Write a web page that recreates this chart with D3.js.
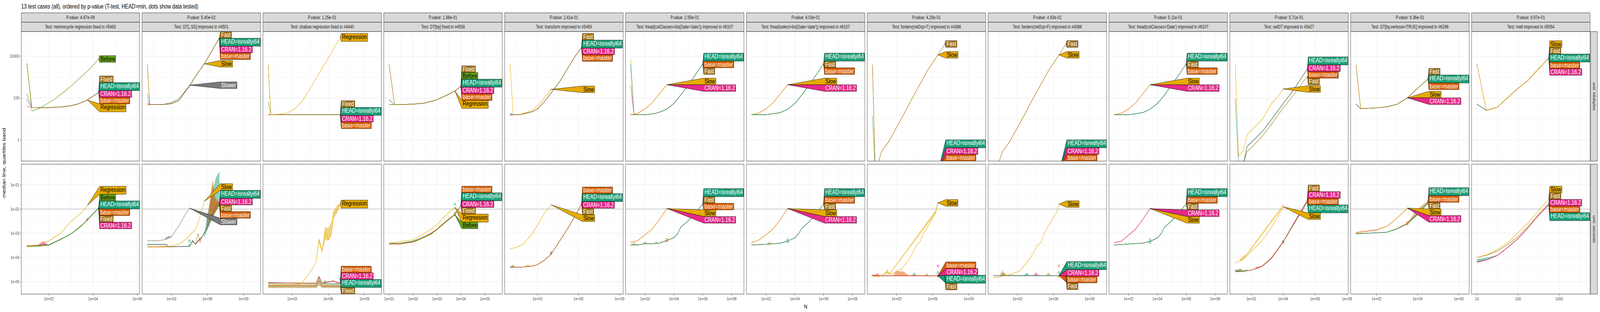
<!DOCTYPE html>
<html>
<head>
<meta charset="utf-8">
<script src="https://cdn.jsdelivr.net/npm/d3@7"></script>
<style>
html, body { margin: 0; padding: 0; background: #fff; overflow: hidden; }
#chart svg { display: block; }
text { font-family: "Liberation Sans", Arial, sans-serif; }
</style>
</head>
<body>
<div id="chart"></div>
<script>
// facet strips
const pValues = ["4.67e-09", "5.40e-02", "1.25e-01", "1.86e-01", "2.41e-01", "2.55e-01", "4.03e-01",
    "4.25e-01", "4.63e-01", "5.11e-01", "5.71e-01", "9.36e-01", "9.97e-01"];
const testNames = ["memrecycle regression fixed in #5463", "DT[,.SD] improved in #4501",
    "shallow regression fixed in #4440", "DT[by] fixed in #4558", "transform improved in #5493",
    "fread(colClasses=list(Date='date')) improved in #6107", "fread(select=list(Date='date')) improved in #6107",
    "forderv(retGrp=T) improved in #4386", "forderv(retGrp=F) improved in #4386",
    "fread(colClasses='Date') improved in #6107", "setDT improved in #5427",
    "DT[by,verbose=TRUE] improved in #6296", "melt improved in #5054"];
const unitNames = ["unit: kilobytes", "unit: seconds"];

// x axes (free per panel)
const xDomains = [[5.58, 1.29e6], [3.7, 2.63e10], [3.7, 2.63e10], [6.03, 5.32e5], [4.06, 1.86e9],
    [4.42, 7.24e8], [4.42, 7.24e8], [3.7, 2.63e10], [3.7, 2.63e10], [4.42, 7.24e8], [4.54, 1.23e8],
    [5.56, 3.24e6], [7.41, 5620]];
const xTicks = [[1e2, 1e4, 1e6], [1e3, 1e6, 1e9], [1e3, 1e6, 1e9], [1e1, 1e2, 1e3, 1e4, 1e5], [1e3, 1e6, 1e9],
    [1e2, 1e4, 1e6, 1e8], [1e2, 1e4, 1e6, 1e8], [1e3, 1e6, 1e9], [1e3, 1e6, 1e9], [1e2, 1e4, 1e6, 1e8],
    [1e2, 1e4, 1e6, 1e8], [1e2, 1e4, 1e6], [10, 100, 1000]];
const xTickLabels = [["1e+02", "1e+04", "1e+06"], ["1e+03", "1e+06", "1e+09"], ["1e+03", "1e+06", "1e+09"],
    ["1e+01", "1e+02", "1e+03", "1e+04", "1e+05"], ["1e+03", "1e+06", "1e+09"],
    ["1e+02", "1e+04", "1e+06", "1e+08"], ["1e+02", "1e+04", "1e+06", "1e+08"], ["1e+03", "1e+06", "1e+09"],
    ["1e+03", "1e+06", "1e+09"], ["1e+02", "1e+04", "1e+06", "1e+08"], ["1e+02", "1e+04", "1e+06", "1e+08"],
    ["1e+02", "1e+04", "1e+06"], ["10", "100", "1000"]];

// y axes (shared per row)
const kbDomain = [0.098, 1.48e5];
const kbTicks = [1, 100, 10000];
const kbTickLabels = ["1", "100", "10000"];
const secDomain = [3.1e-6, 0.71];
const secTicks = [1e-5, 1e-4, 1e-3, 1e-2, 1e-1];
const secTickLabels = ["1e-05", "1e-04", "1e-03", "1e-02", "1e-01"];
const secRefLine = 0.01;

// series per panel, listed in label stacking order: [version, [[N, median]...], [[N, q25, q75]...]]
const kb1 = [
    ["Before", [[10, 4500], [17, 24], [37, 32], [100, 60], [190, 91], [430, 180], [980, 360], [2200, 790], [5900, 2000], [18000, 7300]]],
    ["Fixed", [[10, 4500], [17, 34], [100, 35], [430, 38], [980, 43], [2200, 53], [5500, 81], [18000, 185]]],
    ["HEAD", [[10, 155], [17, 34], [100, 35], [430, 38], [980, 43], [2200, 53], [5500, 81], [18000, 185]]],
    ["CRAN", [[10, 87], [17, 34], [100, 35], [430, 38], [980, 43], [2200, 53], [5500, 81], [18000, 185]]],
    ["base", [[10, 41], [17, 34], [100, 35], [430, 38], [980, 43], [2200, 53], [5500, 81], [18000, 185]]],
    ["Regression", [[10, 4500], [17, 34], [100, 35], [430, 38], [980, 43], [2200, 53], [5500, 81]]]
];
const sec1 = [
    ["Regression", [[10, 3.0e-4], [30, 3.3e-4], [100, 4.9e-4], [320, 9.5e-4], [1000, 3.1e-3], [3200, 7.6e-3], [5500, 1.4e-2]]],
    ["Before", [[10, 2.8e-4], [30, 2.9e-4], [100, 3.2e-4], [320, 5.3e-4], [1000, 9.3e-4], [3200, 2.1e-3], [5500, 3.5e-3], [18000, 1.1e-2]]],
    ["HEAD", [[10, 3.1e-4], [30, 3.1e-4], [100, 3.4e-4], [320, 5.6e-4], [1000, 9.6e-4], [3200, 2.2e-3], [5500, 3.7e-3], [18000, 1.15e-2]]],
    ["base", [[10, 2.95e-4], [30, 3.0e-4], [100, 3.3e-4], [320, 5.5e-4], [1000, 9.5e-4], [3200, 2.2e-3], [5500, 3.6e-3], [18000, 1.1e-2]]],
    ["Fixed", [[10, 2.9e-4], [30, 3.0e-4], [100, 3.3e-4], [320, 5.5e-4], [1000, 9.4e-4], [3200, 2.2e-3], [5500, 3.6e-3], [18000, 1.1e-2]]],
    ["CRAN", [[10, 3.0e-4], [30, 3.0e-4], [55, 3.6e-4], [100, 3.3e-4], [320, 5.4e-4], [1000, 9.5e-4], [3200, 2.2e-3], [5500, 3.6e-3], [18000, 1.1e-2]],
        [[30, 3.0e-4, 3.1e-4], [55, 3.2e-4, 4.8e-4], [90, 3.2e-4, 3.4e-4]]]
];
const kb2 = [
    ["Fast", [[10, 4100], [16, 48], [200, 49], [910, 53], [4100, 75], [18000, 235], [32000, 350], [79000, 890], [5.5e5, 4300], [1e7, 7.4e4]]],
    ["HEAD", [[10, 160], [16, 48], [200, 49], [910, 53], [4100, 75], [18000, 235], [32000, 350], [79000, 890], [5.5e5, 4300], [1e7, 7.4e4]]],
    ["CRAN", [[10, 60], [16, 48], [200, 49], [910, 53], [4100, 75], [18000, 235], [32000, 350], [79000, 890], [5.5e5, 4300], [1e7, 7.4e4]]],
    ["base", [[10, 48], [16, 48], [200, 49], [910, 53], [4100, 75], [18000, 235], [32000, 350], [79000, 890], [5.5e5, 4300], [1e7, 7.4e4]]],
    ["Slow", [[10, 4100], [16, 48], [200, 49], [910, 53], [4100, 75], [18000, 235], [32000, 350], [79000, 890], [5.5e5, 4300]]],
    ["Slower", [[10, 48], [16, 48], [200, 50], [910, 59], [4100, 91], [13500, 210], [32000, 410]]]
];
const sec2 = [
    ["Slow", [[10, 2.75e-4], [1000, 2.95e-4], [5500, 3.7e-4], [18000, 6e-4], [59000, 1.1e-3], [1.07e5, 1.5e-3], [1.9e5, 3.3e-3], [3.5e5, 9.6e-3], [5.5e5, 2.1e-2]]],
    ["HEAD", [[10, 3.5e-4], [370, 3.5e-4], [590, 2.8e-4], [32000, 2.9e-4], [59000, 5.1e-4], [1e5, 3.5e-4], [1.7e5, 5.1e-4], [3.5e5, 7.2e-4], [8.6e5, 1.5e-3], [2.1e6, 4.7e-3], [5.1e6, 1.25e-2], [1e7, 1.6e-2]],
        [[5.5e5, 6e-4, 9e-4], [8.6e5, 1.2e-3, 4e-3], [2.1e6, 3e-3, 3e-2], [5.1e6, 8e-3, 0.2], [1e7, 1.3e-2, 0.36]]],
    ["CRAN", [[10, 3.4e-4], [370, 3.4e-4], [590, 2.8e-4], [32000, 2.9e-4], [59000, 5e-4], [1e5, 3.5e-4], [1.7e5, 4.8e-4], [3.5e5, 7e-4], [8.6e5, 1.6e-3], [2.1e6, 5e-3], [5.1e6, 1.3e-2], [1e7, 1.6e-2]]],
    ["Fast", [[10, 2.8e-4], [370, 2.8e-4], [1000, 2.75e-4], [32000, 2.9e-4], [59000, 4.6e-4], [1e5, 3.5e-4], [1.7e5, 9.5e-4], [2.5e5, 4.2e-4], [3.5e5, 7e-4], [8.6e5, 1.6e-3], [2.1e6, 5e-3], [5.1e6, 1.3e-2], [1e7, 1.6e-2]],
        [[8.6e5, 1.2e-3, 3e-3], [2.1e6, 4e-3, 6e-2], [2.8e6, 5e-3, 0.17], [5.1e6, 8e-3, 2e-2], [1e7, 1.4e-2, 2e-2]]],
    ["base", [[10, 2.7e-4], [1000, 2.75e-4], [32000, 2.85e-4], [59000, 4.8e-4], [1e5, 3.5e-4], [1.7e5, 4.5e-4], [3.5e5, 6.8e-4], [8.6e5, 1.5e-3], [2.1e6, 4.8e-3], [5.1e6, 1.3e-2], [1e7, 1.6e-2]],
        [[1.5e6, 3e-3, 1e-2], [2.5e6, 4e-3, 0.1], [3.5e6, 6e-3, 3e-2], [1e7, 1.4e-2, 2e-2]]],
    ["Slower", [[10, 4.9e-4], [85, 4.9e-4], [370, 5.6e-4], [590, 6.5e-4], [1000, 7.1e-4], [4000, 1.95e-3], [13500, 5.6e-3], [32000, 1.1e-2]],
        [[300, 5.3e-4, 6.5e-4], [600, 6e-4, 8e-4], [1000, 6.8e-4, 7.5e-4]]]
];
const kb3 = [
    ["Regression", [[10, 3900], [17, 16], [85, 17], [370, 19.5], [1660, 30], [7400, 75], [32000, 290], [1.4e5, 1230], [6.4e5, 5300], [1e7, 7.8e4]]],
    ["Fixed", [[10, 4000], [17, 16], [1e7, 16]]],
    ["HEAD", [[10, 65], [17, 16], [1e7, 16]]],
    ["CRAN", [[10, 16], [17, 16], [1e7, 16]]],
    ["base", [[10, 16], [17, 16], [1e7, 16]]]
];
const sec3 = [
    ["Regression", [[10, 7.1e-6], [1000, 7.5e-6], [5500, 8.5e-6], [13500, 1.45e-5], [32000, 2.5e-5], [93000, 6e-5], [1.7e5, 5.6e-4], [3e5, 1.75e-4], [5.5e5, 1.2e-3], [1e6, 5.6e-4], [1.8e6, 9.5e-4], [2.8e6, 6.8e-3], [5.1e6, 8.8e-3], [1e7, 1.6e-2]],
        [[93000, 5.5e-5, 6.5e-5], [1.7e5, 4e-4, 6.5e-4], [3e5, 1.6e-4, 2.2e-4], [5.5e5, 5e-4, 1.9e-3], [1e6, 5e-4, 1.6e-3], [1.8e6, 8e-4, 3e-3], [2.8e6, 4e-3, 8.5e-3], [5.1e6, 6.5e-3, 1.4e-2], [1e7, 1.5e-2, 1.8e-2]]],
    ["base", [[10, 9e-6], [1000, 9e-6], [1e5, 8.8e-6], [1.7e5, 1.6e-5], [3e5, 9e-6], [2.8e6, 1.1e-5], [5e6, 9e-6], [1e7, 9e-6]]],
    ["CRAN", [[10, 9.3e-6], [1000, 8.8e-6], [1e5, 8.8e-6], [1.7e5, 1.7e-5], [3e5, 8.8e-6], [2.8e6, 1.05e-5], [1e7, 8.8e-6]]],
    ["HEAD", [[10, 8.6e-6], [1000, 8.8e-6], [1e5, 8.5e-6], [1.7e5, 1.5e-5], [3e5, 8.5e-6], [1e7, 8.5e-6]],
        [[3.5e5, 8.5e-6, 9e-6], [5.5e5, 8.5e-6, 1.2e-5], [8e5, 8.5e-6, 9e-6]]],
    ["Fixed", [[10, 6.5e-6], [1000, 6.8e-6], [1e5, 6.6e-6], [1.7e5, 1.1e-5], [3e5, 6.6e-6], [1e7, 6.6e-6]],
        [[10, 5.5e-6, 8e-6], [1e5, 5.5e-6, 8e-6], [1.7e5, 7e-6, 1.4e-5], [3e5, 5.5e-6, 8e-6], [1e7, 5.5e-6, 8e-6]]]
];
const kb4 = [
    ["Fixed", [[10, 4100], [17, 48], [100, 51], [320, 58], [1000, 83], [2600, 138], [5600, 217], [10000, 360]]],
    ["Before", [[10, 48], [17, 48], [100, 51], [320, 58], [1000, 83], [2600, 138], [5600, 217], [10000, 360]]],
    ["HEAD", [[10, 83], [17, 48], [100, 51], [320, 58], [1000, 83], [2600, 138], [5600, 217], [10000, 360]]],
    ["CRAN", [[10, 48], [17, 48], [100, 51], [320, 58], [1000, 83], [2600, 138], [5600, 217], [10000, 360]]],
    ["base", [[10, 48], [17, 48], [100, 51], [320, 58], [1000, 83], [2600, 138], [5600, 217], [10000, 360]]],
    ["Regression", [[10, 4100], [17, 48], [100, 51], [320, 58], [1000, 83], [2600, 138], [5600, 217]]]
];
const sec4 = [
    ["base", [[10, 3.7e-4], [29, 3.7e-4], [100, 4.5e-4], [175, 5.6e-4], [575, 9.8e-4], [1000, 1.48e-3], [2600, 3.4e-3], [5600, 6.1e-3], [10000, 1.38e-2]]],
    ["HEAD", [[10, 3.8e-4], [29, 3.9e-4], [100, 4.8e-4], [175, 5.8e-4], [575, 9.8e-4], [1000, 1.48e-3], [2600, 3.3e-3], [5600, 6e-3], [10000, 1.38e-2]]],
    ["CRAN", [[10, 3.7e-4], [29, 3.7e-4], [100, 4.5e-4], [175, 5.6e-4], [575, 1.02e-3], [1000, 1.5e-3], [2600, 3.4e-3], [5600, 6.1e-3], [10000, 1.38e-2]]],
    ["Fixed", [[10, 3.6e-4], [29, 3.6e-4], [100, 4.4e-4], [175, 5.5e-4], [575, 9.6e-4], [1000, 1.45e-3], [2600, 3.3e-3], [5600, 6e-3], [10000, 1.38e-2]]],
    ["Regression", [[10, 3.9e-4], [100, 5.4e-4], [175, 7.2e-4], [575, 1.48e-3], [1000, 2.3e-3], [2600, 6.1e-3], [5600, 1.18e-2]]],
    ["Before", [[10, 3.6e-4], [29, 3.6e-4], [100, 4.3e-4], [175, 5.3e-4], [575, 9.2e-4], [1000, 1.4e-3], [2600, 3.1e-3], [5600, 5.8e-3]]]
];
const kb5 = [
    ["Fast", [[10, 16], [17, 16], [66, 16.5], [410, 22], [1000, 30], [3300, 68], [1e4, 170], [46000, 650], [1.7e5, 2700], [6.1e5, 1.04e4], [1.7e6, 2.6e4]]],
    ["HEAD", [[10, 19], [17, 16], [66, 16.5], [410, 22], [1000, 30], [3300, 68], [1e4, 170], [46000, 650], [1.7e5, 2700], [6.1e5, 1.04e4], [1.7e6, 2.6e4]]],
    ["CRAN", [[10, 15], [17, 16], [66, 16.5], [410, 22], [1000, 30], [3300, 68], [1e4, 170], [46000, 650], [1.7e5, 2700], [6.1e5, 1.04e4], [1.7e6, 2.6e4]]],
    ["base", [[10, 16], [17, 16], [66, 16.5], [410, 22], [1000, 30], [3300, 68], [1e4, 170], [46000, 650], [1.7e5, 2700], [6.1e5, 1.04e4], [1.7e6, 2.6e4]]],
    ["Slow", [[10, 4300], [17, 16], [66, 17], [410, 26], [1000, 41], [3300, 102], [1e4, 260]]]
];
const sec5 = [
    ["base", [[10, 4e-5], [66, 4e-5], [410, 4.4e-5], [1000, 5e-5], [3300, 7.9e-5], [1e4, 1.35e-4], [46000, 5.1e-4], [1.7e5, 1.6e-3], [6.1e5, 5.6e-3], [1.7e6, 1.6e-2]],
        [[120, 4.1e-5, 4.2e-5], [190, 4.1e-5, 5e-5], [300, 4.2e-5, 4.4e-5]]],
    ["HEAD", [[10, 4.1e-5], [66, 4e-5], [410, 4.4e-5], [1000, 5e-5], [3300, 7.9e-5], [1e4, 1.35e-4], [46000, 5.1e-4], [1.7e5, 1.6e-3], [6.1e5, 5.6e-3], [1.7e6, 1.6e-2]]],
    ["CRAN", [[10, 3.9e-5], [66, 4e-5], [410, 4.4e-5], [1000, 5e-5], [3300, 7.9e-5], [1e4, 1.35e-4], [46000, 5.1e-4], [1.7e5, 1.6e-3], [6.1e5, 5.6e-3], [1.7e6, 1.6e-2]]],
    ["Fast", [[10, 4e-5], [66, 4e-5], [410, 4.4e-5], [1000, 5e-5], [3300, 7.9e-5], [1e4, 1.35e-4], [46000, 5.1e-4], [1.7e5, 1.6e-3], [6.1e5, 5.6e-3], [1.7e6, 1.6e-2]],
        [[11, 4e-5, 4.1e-5], [16, 4e-5, 5.2e-5], [24, 4e-5, 4.2e-5]]],
    ["Slow", [[10, 2.3e-4], [30, 2.6e-4], [110, 3.9e-4], [410, 9.5e-4], [1000, 2.1e-3], [3300, 6.7e-3], [1e4, 1.5e-2]]]
];
const kb6 = [
    ["HEAD", [[10, 4100], [17, 16], [100, 16], [450, 18], [1200, 22], [3300, 30], [1e4, 55], [30000, 140], [1e5, 430], [3.2e5, 1340], [1e6, 4300]]],
    ["base", [[10, 16], [17, 16], [100, 16], [450, 18], [1200, 22], [3300, 30], [1e4, 55], [30000, 140], [1e5, 430], [3.2e5, 1340], [1e6, 4300]]],
    ["Fast", [[10, 16], [17, 16], [100, 16], [450, 18], [1200, 22], [3300, 30], [1e4, 55], [30000, 140], [1e5, 430], [3.2e5, 1340], [1e6, 4300]]],
    ["Slow", [[10, 6900], [17, 17], [30, 18], [55, 24], [100, 30], [310, 59], [950, 155], [3300, 430]]],
    ["CRAN", [[10, 390], [17, 17], [30, 18], [55, 24], [100, 30], [310, 59], [950, 155], [3300, 430]]]
];
const sec6 = [
    ["HEAD", [[10, 3.3e-4], [30, 3.3e-4], [100, 3.7e-4], [310, 3.7e-4], [950, 3.9e-4], [3300, 5.1e-4], [1e4, 6.6e-4], [18000, 9.5e-4], [30000, 1.8e-3], [1e5, 3.3e-3], [3.2e5, 7.3e-3], [1e6, 1.6e-2]]],
    ["Fast", [[10, 3.3e-4], [30, 3.3e-4], [100, 3.7e-4], [310, 3.7e-4], [950, 3.9e-4], [3300, 5.1e-4], [1e4, 6.6e-4], [18000, 9.5e-4], [30000, 1.8e-3], [1e5, 3.3e-3], [3.2e5, 7.3e-3], [1e6, 1.6e-2]],
        [[12, 3.3e-4, 3.4e-4], [17, 3.3e-4, 4.3e-4], [24, 3.3e-4, 3.4e-4], [70, 3.6e-4, 3.7e-4], [100, 3.7e-4, 4.6e-4], [140, 3.7e-4, 3.8e-4], [400, 3.7e-4, 3.8e-4], [600, 3.8e-4, 4.5e-4], [800, 3.8e-4, 3.9e-4]]],
    ["base", [[10, 3.3e-4], [30, 3.3e-4], [100, 3.7e-4], [310, 3.7e-4], [950, 3.9e-4], [3300, 5.1e-4], [1e4, 6.6e-4], [18000, 9.5e-4], [30000, 1.8e-3], [1e5, 3.3e-3], [3.2e5, 7.3e-3], [1e6, 1.6e-2]]],
    ["Slow", [[10, 4.3e-4], [30, 4.9e-4], [100, 8.7e-4], [310, 1.5e-3], [950, 3.6e-3], [3300, 1.05e-2]]],
    ["CRAN", [[10, 4.3e-4], [30, 4.9e-4], [100, 8.7e-4], [310, 1.5e-3], [950, 3.6e-3], [3300, 1.05e-2]]]
];
const kb7 = [
    ["HEAD", [[10, 16], [100, 16], [960, 20], [3200, 29], [1e4, 55], [31000, 140], [1e5, 430], [3.2e5, 1340], [1e6, 4300]]],
    ["Fast", [[10, 16], [100, 16], [960, 20], [3200, 29], [1e4, 55], [31000, 140], [1e5, 430], [3.2e5, 1340], [1e6, 4300]]],
    ["base", [[10, 16], [100, 16], [960, 20], [3200, 29], [1e4, 55], [31000, 140], [1e5, 430], [3.2e5, 1340], [1e6, 4300]]],
    ["Slow", [[10, 16], [30, 18.5], [55, 24], [100, 30], [310, 59], [960, 155], [3200, 430]]],
    ["CRAN", [[10, 16], [30, 18.5], [55, 24], [100, 30], [310, 59], [960, 155], [3200, 430]]]
];
const sec7 = [
    ["HEAD", [[10, 3.3e-4], [100, 3.5e-4], [960, 3.9e-4], [3200, 4.8e-4], [1e4, 6.4e-4], [18000, 9.5e-4], [31000, 1.6e-3], [1e5, 3e-3], [3.2e5, 6.8e-3], [1e6, 1.6e-2]]],
    ["base", [[10, 3.3e-4], [100, 3.5e-4], [960, 3.9e-4], [3200, 4.8e-4], [1e4, 6.4e-4], [18000, 9.5e-4], [31000, 1.6e-3], [1e5, 3e-3], [3.2e5, 6.8e-3], [1e6, 1.6e-2]],
        [[120, 3.5e-4, 3.6e-4], [170, 3.5e-4, 4.5e-4], [240, 3.5e-4, 3.6e-4]]],
    ["Fast", [[10, 3.3e-4], [100, 3.5e-4], [960, 3.9e-4], [3200, 4.8e-4], [1e4, 6.4e-4], [18000, 9.5e-4], [31000, 1.6e-3], [1e5, 3e-3], [3.2e5, 6.8e-3], [1e6, 1.6e-2]]],
    ["Slow", [[10, 4.1e-4], [30, 5.1e-4], [100, 8.7e-4], [310, 1.5e-3], [960, 3.6e-3], [3200, 1.05e-2]]],
    ["CRAN", [[10, 4.1e-4], [30, 5.1e-4], [100, 8.7e-4], [310, 1.5e-3], [960, 3.6e-3], [3200, 1.05e-2]]]
];
const kb8 = [
    ["Fast", [[10, 3900], [17, 0.05], [32, 0.093], [57, 0.28], [220, 0.81], [970, 3.8], [4300, 18], [19000, 91], [85000, 430], [3.7e5, 2000], [2.8e6, 1.15e4], [1.05e7, 3.8e4]]],
    ["Slow", [[10, 3900], [17, 0.05], [32, 0.093], [57, 0.28], [220, 0.81], [970, 3.8], [4300, 18], [19000, 91], [85000, 430], [3.7e5, 2000], [2.8e6, 1.15e4]]],
    ["HEAD", [[10, 14], [17, 0.03], [2.8e6, 0.03]]],
    ["CRAN", [[10, 0.03], [2.8e6, 0.03]]],
    ["base", [[10, 0.03], [2.8e6, 0.03]]]
];
const sec8 = [
    ["Slow", [[10, 1.7e-5], [32, 1.6e-5], [160, 2.5e-5], [400, 2.1e-5], [2800, 3.5e-5], [10500, 7.9e-5], [54000, 3.5e-4], [89000, 4.3e-4], [1.8e5, 1.05e-3], [3.2e5, 1.5e-3], [9.1e5, 3.9e-3], [1.8e6, 7.3e-3], [2.8e6, 1.8e-2]],
        [[100, 1.8e-5, 2.1e-5], [160, 2.3e-5, 3.4e-5], [250, 1.9e-5, 2.2e-5], [1.8e6, 6.5e-3, 9e-3], [2.8e6, 1.4e-2, 2.2e-2]]],
    ["base", [[10, 1.75e-5], [1000, 1.8e-5], [1e5, 1.8e-5], [2.8e6, 1.75e-5]],
        [[600, 1.8e-5, 1.9e-5], [900, 1.8e-5, 2.8e-5], [4000, 1.8e-5, 2.6e-5], [9000, 1.8e-5, 1.9e-5]]],
    ["CRAN", [[10, 1.8e-5], [1000, 1.75e-5], [1e5, 1.75e-5], [2.8e6, 1.75e-5]],
        [[15, 1.8e-5, 1.9e-5], [25, 1.8e-5, 2.3e-5], [40, 1.8e-5, 1.9e-5]]],
    ["HEAD", [[10, 1.72e-5], [1000, 1.75e-5], [1e5, 1.75e-5], [2.8e6, 1.72e-5]],
        [[18000, 1.75e-5, 1.8e-5], [30000, 1.75e-5, 2.4e-5], [50000, 1.75e-5, 1.8e-5]]],
    ["Fast", [[10, 1.75e-5], [1000, 1.8e-5], [1e5, 1.78e-5], [2.8e6, 1.75e-5], [1.05e7, 1.75e-5]],
        [[8, 1.7e-5, 1.8e-5], [12, 1.7e-5, 2.1e-5], [18, 1.7e-5, 1.8e-5], [2e5, 1.75e-5, 1.8e-5], [3.5e5, 1.75e-5, 2.2e-5], [5e5, 1.75e-5, 1.8e-5]]]
];
const kb9 = [
    ["Fast", [[10, 0.05], [30, 0.093], [59, 0.28], [225, 0.81], [1000, 3.8], [4400, 18], [19500, 91], [87000, 430], [3.9e5, 2000], [2.9e6, 1.15e4], [1.1e7, 3.8e4]]],
    ["Slow", [[10, 0.05], [30, 0.093], [59, 0.28], [225, 0.81], [1000, 3.8], [4400, 18], [19500, 91], [87000, 430], [3.9e5, 2000], [2.9e6, 1.15e4]]],
    ["HEAD", [[10, 0.03], [2.9e6, 0.03]]],
    ["CRAN", [[10, 0.03], [2.9e6, 0.03]]],
    ["base", [[10, 0.03], [2.9e6, 0.03]]]
];
const sec9 = [
    ["Slow", [[10, 1.45e-5], [30, 1.5e-5], [93, 1.8e-5], [410, 2.1e-5], [1350, 2.7e-5], [4400, 5e-5], [14500, 1.1e-4], [48000, 3.2e-4], [1e5, 4.3e-4], [1.8e5, 1.05e-3], [3.3e5, 1.8e-3], [9.5e5, 4.3e-3], [2e6, 7.9e-3], [2.9e6, 1.6e-2]]],
    ["HEAD", [[10, 1.8e-5], [1000, 1.8e-5], [1e5, 1.78e-5], [2.9e6, 1.8e-5]],
        [[3500, 1.8e-5, 1.85e-5], [6000, 1.8e-5, 2.4e-5], [10000, 1.8e-5, 1.85e-5]]],
    ["CRAN", [[10, 1.78e-5], [1000, 1.78e-5], [1e5, 1.8e-5], [2.9e6, 1.78e-5]],
        [[20000, 1.8e-5, 1.85e-5], [35000, 1.8e-5, 2.4e-5], [60000, 1.8e-5, 1.85e-5]]],
    ["base", [[10, 1.8e-5], [1000, 1.8e-5], [1e5, 1.8e-5], [2.9e6, 1.8e-5]],
        [[50, 1.8e-5, 1.85e-5], [80, 1.8e-5, 2.4e-5], [130, 1.8e-5, 1.85e-5]]],
    ["Fast", [[10, 1.8e-5], [1000, 1.8e-5], [1e5, 1.8e-5], [2.9e6, 1.8e-5], [1.1e7, 1.8e-5]],
        [[35, 1.8e-5, 1.9e-5], [59, 1.8e-5, 2.9e-5], [90, 1.8e-5, 1.9e-5], [2.5e5, 1.8e-5, 1.85e-5], [4e5, 1.8e-5, 2.4e-5], [6e5, 1.8e-5, 1.85e-5]]]
];
const kb10 = [
    ["HEAD", [[10, 16], [100, 16], [950, 20], [3100, 29], [1e4, 55], [32000, 140], [1e5, 430], [3.2e5, 1340], [1e6, 4300]]],
    ["Fast", [[10, 16], [100, 16], [950, 20], [3100, 29], [1e4, 55], [32000, 140], [1e5, 430], [3.2e5, 1340], [1e6, 4300]]],
    ["base", [[10, 16], [100, 16], [950, 20], [3100, 29], [1e4, 55], [32000, 140], [1e5, 430], [3.2e5, 1340], [1e6, 4300]]],
    ["Slow", [[10, 16], [30, 18.5], [55, 24], [100, 30], [310, 59], [950, 155], [3100, 430]]],
    ["CRAN", [[10, 16], [30, 18.5], [55, 24], [100, 30], [310, 59], [950, 155], [3100, 430]]]
];
const sec10 = [
    ["HEAD", [[10, 3.3e-4], [100, 3.6e-4], [950, 3.9e-4], [3100, 4.6e-4], [1e4, 6.4e-4], [18000, 9.5e-4], [32000, 1.8e-3], [1e5, 3.3e-3], [3.2e5, 7.3e-3], [1e6, 1.6e-2]]],
    ["base", [[10, 3.3e-4], [100, 3.6e-4], [950, 3.9e-4], [3100, 4.6e-4], [1e4, 6.4e-4], [18000, 9.5e-4], [32000, 1.8e-3], [1e5, 3.3e-3], [3.2e5, 7.3e-3], [1e6, 1.6e-2]]],
    ["Fast", [[10, 3.3e-4], [100, 3.6e-4], [950, 3.9e-4], [3100, 4.6e-4], [1e4, 6.4e-4], [18000, 9.5e-4], [32000, 1.8e-3], [1e5, 3.3e-3], [3.2e5, 7.3e-3], [1e6, 1.6e-2]]],
    ["CRAN", [[10, 4.1e-4], [30, 4.6e-4], [100, 8.3e-4], [310, 1.5e-3], [950, 3.6e-3], [3100, 1.05e-2]]],
    ["Slow", [[10, 4.1e-4], [30, 4.6e-4], [100, 8.3e-4], [310, 1.5e-3], [950, 3.6e-3], [3100, 1.05e-2]]]
];
const kb11 = [
    ["HEAD", [[10, 91], [16, 0.06], [30, 0.06], [56, 0.51], [100, 0.74], [490, 2.5], [1900, 9.6], [1e4, 55], [44000, 235], [3.3e5, 2400]]],
    ["CRAN", [[10, 0.08], [16, 0.06], [30, 0.06], [56, 0.51], [100, 0.74], [490, 2.5], [1900, 9.6], [1e4, 55], [44000, 235], [3.3e5, 2400]]],
    ["base", [[10, 0.08], [16, 0.06], [30, 0.06], [56, 0.51], [100, 0.74], [490, 2.5], [1900, 9.6], [1e4, 55], [44000, 235], [3.3e5, 2400]]],
    ["Fast", [[10, 0.08], [16, 0.06], [30, 0.06], [56, 0.28], [100, 0.42], [490, 1.5], [1900, 5.8], [1e4, 33], [44000, 138], [3.3e5, 1120]]],
    ["Slow", [[10, 4100], [16, 0.17], [30, 0.28], [56, 1.8], [100, 2.8], [490, 9.6], [1900, 55], [4600, 112], [1e4, 270]]]
];
const sec11 = [
    ["Fast", [[10, 2.8e-5], [30, 2.7e-5], [100, 3e-5], [490, 4.5e-5], [1900, 1e-4], [1e4, 4.5e-4], [44000, 2.5e-3], [3.3e5, 2.4e-2]],
        [[14, 2.8e-5, 3e-5], [20, 2.8e-5, 3.6e-5], [28, 2.8e-5, 3e-5]]],
    ["CRAN", [[10, 2.7e-5], [30, 2.7e-5], [100, 3e-5], [490, 4.3e-5], [1900, 9.5e-5], [1e4, 4.3e-4], [44000, 2.3e-3], [3.3e5, 2.1e-2]],
        [[200, 3.5e-5, 3.7e-5], [300, 3.6e-5, 4.4e-5], [400, 3.9e-5, 4.1e-5]]],
    ["base", [[10, 2.7e-5], [30, 2.7e-5], [100, 3e-5], [490, 4.3e-5], [1900, 9.3e-5], [1e4, 4.3e-4], [44000, 2.3e-3], [3.3e5, 2.1e-2]],
        [[150, 3.2e-5, 3.4e-5], [220, 3.4e-5, 4.2e-5], [300, 3.6e-5, 3.8e-5]]],
    ["HEAD", [[10, 2.6e-5], [30, 2.7e-5], [100, 3e-5], [490, 4.3e-5], [1900, 9.3e-5], [1e4, 4.3e-4], [44000, 2.2e-3], [3.3e5, 1.9e-2]],
        [[10, 2.5e-5, 3.2e-5], [30, 2.5e-5, 3e-5], [60, 2.8e-5, 3.2e-5]]],
    ["Slow", [[10, 6e-5], [30, 8.5e-5], [56, 1.2e-4], [100, 1.75e-4], [490, 5.1e-4], [1900, 1.8e-3], [4600, 4.7e-3], [1e4, 1.25e-2]],
        [[20, 6.8e-5, 8.5e-5], [30, 8e-5, 1.15e-4], [45, 1.05e-4, 1.3e-4], [9000, 1.1e-2, 1.4e-2], [1e4, 1.2e-2, 1.7e-2]]]
];
const kb12 = [
    ["Fast", [[10, 3900], [17, 31], [100, 34], [320, 38], [1000, 50], [1800, 71], [3200, 102], [1e4, 290], [32000, 810]]],
    ["HEAD", [[10, 52], [17, 31], [100, 34], [320, 38], [1000, 50], [1800, 71], [3200, 102], [1e4, 290], [32000, 810]]],
    ["base", [[10, 52], [17, 31], [100, 34], [320, 38], [1000, 50], [1800, 71], [3200, 102], [1e4, 290], [32000, 810]]],
    ["Slow", [[10, 3900], [17, 31], [100, 34], [320, 38], [1000, 50], [1800, 71], [3200, 102]]],
    ["CRAN", [[10, 52], [17, 31], [100, 34], [320, 38], [1000, 50], [1800, 71], [3200, 102]]]
];
const sec12 = [
    ["HEAD", [[10, 9.5e-4], [100, 1.05e-3], [320, 1.1e-3], [1000, 1.5e-3], [3200, 2.4e-3], [1e4, 6.1e-3], [32000, 1.8e-2]]],
    ["base", [[10, 9.5e-4], [100, 1.05e-3], [320, 1.1e-3], [1000, 1.55e-3], [3200, 2.6e-3], [1e4, 6.3e-3], [32000, 1.8e-2]]],
    ["Fast", [[10, 9.7e-4], [100, 1.05e-3], [320, 1.12e-3], [1000, 1.55e-3], [3200, 2.6e-3], [1e4, 6.4e-3], [32000, 1.8e-2]],
        [[3200, 2.4e-3, 2.8e-3], [1e4, 5.5e-3, 1e-2], [32000, 1.6e-2, 2.2e-2]]],
    ["Slow", [[10, 1.05e-3], [100, 1.35e-3], [320, 1.95e-3], [570, 2.8e-3], [1000, 4.3e-3], [1800, 6.7e-3], [3200, 1.1e-2]]],
    ["CRAN", [[10, 1.08e-3], [100, 1.38e-3], [320, 1.95e-3], [570, 2.8e-3], [1000, 4.3e-3], [1800, 6.7e-3], [3200, 1.1e-2]]]
];
const kb13 = [
    ["Slow", [[10, 4200], [17, 26], [31, 36], [56, 105], [100, 290], [170, 660], [310, 2400], [560, 8100]]],
    ["Fast", [[10, 4200], [17, 26], [31, 36], [56, 105], [100, 290], [170, 660], [310, 2400], [560, 8100]]],
    ["HEAD", [[10, 51], [17, 26], [31, 36], [56, 105], [100, 290], [170, 660], [310, 2400], [560, 8100]]],
    ["base", [[10, 51], [17, 26], [31, 36], [56, 105], [100, 290], [170, 660], [310, 2400], [560, 8100]]],
    ["CRAN", [[10, 51], [17, 26], [31, 36], [56, 105], [100, 290], [170, 660], [310, 2400], [560, 8100]]]
];
const sec13 = [
    ["Slow", [[10, 1.02e-4], [17.6, 1.3e-4], [31, 2.1e-4], [56, 4.1e-4], [100, 1.05e-3], [176, 2.7e-3], [310, 8.5e-3], [560, 2.6e-2]]],
    ["Fast", [[10, 1e-4], [17.6, 1.25e-4], [31, 1.85e-4], [56, 3.4e-4], [100, 7.2e-4], [176, 1.9e-3], [310, 5.9e-3], [560, 1.65e-2]]],
    ["CRAN", [[10, 6.3e-5], [17.6, 8e-5], [31, 1.2e-4], [56, 2.6e-4], [100, 6e-4], [176, 1.7e-3], [310, 5.3e-3], [560, 1.5e-2]]],
    ["base", [[10, 6.5e-5], [17.6, 8.1e-5], [31, 1.2e-4], [56, 2.6e-4], [100, 6e-4], [176, 1.7e-3], [310, 5.3e-3], [560, 1.5e-2]]],
    ["HEAD", [[10, 6.5e-5], [17.6, 8.1e-5], [31, 1.2e-4], [56, 2.6e-4], [100, 6e-4], [176, 1.7e-3], [310, 5.3e-3], [560, 1.5e-2]],
        [[10, 6.3e-5, 8.5e-5], [17.6, 7.8e-5, 1e-4], [31, 1.2e-4, 1.25e-4]]]
];

// dots = data tested: [panel, version, N, seconds]
const testedDots = [
    [0, "CRAN", 5500, 3.7e-3],
    [1, "HEAD", 32000, 4.8e-4], [1, "HEAD", 32000, 3.1e-4],
    [2, "HEAD", 1e7, 1.3e-5],
    [3, "HEAD", 5600, 1.6e-2], [3, "HEAD", 5600, 7e-3], [3, "Before", 5600, 6e-3],
    [4, "base", 1e4, 1.45e-4], [4, "HEAD", 1e4, 1.6e-4],
    [5, "base", 3300, 5.5e-4], [5, "base", 3300, 4.8e-4],
    [6, "HEAD", 3200, 5.3e-4], [6, "HEAD", 3200, 4.4e-4],
    [7, "CRAN", 2.8e6, 4.5e-5], [7, "HEAD", 2.8e6, 2.4e-5], [7, "CRAN", 2.8e6, 1.75e-5],
    [8, "base", 2.9e6, 4.5e-5], [8, "HEAD", 2.9e6, 2.4e-5], [8, "base", 2.9e6, 1.6e-5],
    [9, "HEAD", 3100, 5.3e-4], [9, "HEAD", 3100, 4.2e-4],
    [10, "base", 1e4, 4.3e-4], [10, "HEAD", 1e4, 4.6e-4],
    [11, "base", 3200, 2.8e-3], [11, "base", 3200, 2.4e-3]
];

const kbSeries = [kb1, kb2, kb3, kb4, kb5, kb6, kb7, kb8, kb9, kb10, kb11, kb12, kb13];
const secSeries = [sec1, sec2, sec3, sec4, sec5, sec6, sec7, sec8, sec9, sec10, sec11, sec12, sec13];

const colors = {
    HEAD: "#1B9E77", CRAN: "#E7298A", base: "#D95F02", Fast: "#A6761D", Fixed: "#A6761D",
    Before: "#66A61E", Slow: "#E6AB02", Regression: "#E6AB02", Slower: "#7A7A7A"
};
const labelNames = {HEAD: "HEAD=isreallyi64", CRAN: "CRAN=1.16.2", base: "base=master"};
const darkText = ["Slow", "Regression", "Before"];

var W = 5200, H = 800;
var x0 = 69, step = 392.8, pw = 385;
var rows = [
    {top: 81, h: 332, domain: kbDomain, ticks: kbTicks, labels: kbTickLabels, series: kbSeries},
    {top: 421, h: 333, domain: secDomain, ticks: secTicks, labels: secTickLabels, series: secSeries}
];

// laid out in a 5200x800 user space and stretched onto the window (which may be narrower)
var svg = d3.select("#chart").append("svg")
    .attr("width", window.innerWidth || W)
    .attr("height", window.innerHeight || H)
    .attr("viewBox", "0 0 " + W + " " + H)
    .attr("preserveAspectRatio", "none");
var defs = svg.append("defs");

svg.append("text")
    .attr("x", 69).attr("y", 22)
    .attr("font-size", 16)
    .text("13 test cases (all), ordered by p-value (T-test, HEAD>min, dots show data tested)");

// measure label widths once
var meas = svg.append("text").attr("font-size", 16).attr("visibility", "hidden");
function textWidth(s) {
    meas.text(s);
    return meas.node().getComputedTextLength();
}

function minorsOf(logs, lo, hi) {
    var st = logs[1] - logs[0], out = [];
    for (var v = logs[0] - st / 2; v <= hi; v += st) if (v >= lo) out.push(v);
    return out;
}

// stack label boxes: pool overlapping neighbours around the mean target, then keep inside panel
function stackBoxes(items, top, bottom) {
    var cl = [];
    items.forEach(function (it) {
        cl.push({items: [it], sum: it.target, n: 1, h: it.h});
        while (cl.length > 1) {
            var a = cl[cl.length - 2], b = cl[cl.length - 1];
            var at = a.sum / a.n - a.h / 2, bt = b.sum / b.n - b.h / 2;
            if (at + a.h <= bt) break;
            cl.splice(cl.length - 2, 2, {items: a.items.concat(b.items), sum: a.sum + b.sum, n: a.n + b.n, h: a.h + b.h});
        }
    });
    var tops = [];
    cl.forEach(function (c) {
        var t = c.sum / c.n - c.h / 2;
        c.items.forEach(function (it) { tops.push(t); t += it.h; });
    });
    for (var i = 0; i < items.length; i++) tops[i] = Math.max(tops[i], i ? tops[i - 1] + items[i - 1].h : top);
    for (var j = items.length - 1; j >= 0; j--) tops[j] = Math.min(tops[j], j < items.length - 1 ? tops[j + 1] - items[j].h : bottom - items[j].h);
    return tops;
}

for (let p = 0; p < 13; p++) {
    var px = x0 + p * step;
    var x = d3.scaleLog().domain(xDomains[p]).range([px, px + pw]);
    var xl = xDomains[p].map(Math.log10);
    var xMajor = xTicks[p].map(Math.log10);
    var xMinor = minorsOf(xMajor, xl[0], xl[1]);

    // strips
    [[33, "P.value: " + pValues[p]], [57, "Test: " + testNames[p]]].forEach(function (s) {
        svg.append("rect").attr("x", px).attr("y", s[0]).attr("width", pw).attr("height", 24)
            .attr("fill", "#D9D9D9").attr("stroke", "#333333").attr("stroke-width", 1);
        svg.append("text").attr("x", px + pw / 2).attr("y", s[0] + 16)
            .attr("text-anchor", "middle").attr("font-size", 12).attr("fill", "#1A1A1A").text(s[1]);
    });

    rows.forEach(function (row, r) {
        var y = d3.scaleLog().domain(row.domain).range([row.top + row.h, row.top]);
        var yl = row.domain.map(Math.log10);
        var yMajor = row.ticks.map(Math.log10);
        var yMinor = minorsOf(yMajor, yl[0], yl[1]);
        var g = svg.append("g");
        var cid = "clip" + p + "_" + r;
        defs.append("clipPath").attr("id", cid).append("rect")
            .attr("x", px).attr("y", row.top).attr("width", pw).attr("height", row.h);

        g.append("rect").attr("x", px).attr("y", row.top).attr("width", pw).attr("height", row.h).attr("fill", "#fff");
        yMinor.forEach(function (v) {
            g.append("line").attr("x1", px).attr("x2", px + pw).attr("y1", y(Math.pow(10, v))).attr("y2", y(Math.pow(10, v)))
                .attr("stroke", "#F2F2F2").attr("stroke-width", 1);
        });
        xMinor.forEach(function (v) {
            g.append("line").attr("y1", row.top).attr("y2", row.top + row.h).attr("x1", x(Math.pow(10, v))).attr("x2", x(Math.pow(10, v)))
                .attr("stroke", "#F2F2F2").attr("stroke-width", 1);
        });
        row.ticks.forEach(function (v) {
            g.append("line").attr("x1", px).attr("x2", px + pw).attr("y1", y(v)).attr("y2", y(v))
                .attr("stroke", "#EBEBEB").attr("stroke-width", 1.1);
        });
        xTicks[p].forEach(function (v) {
            g.append("line").attr("y1", row.top).attr("y2", row.top + row.h).attr("x1", x(v)).attr("x2", x(v))
                .attr("stroke", "#EBEBEB").attr("stroke-width", 1.1);
        });

        var inner = g.append("g").attr("clip-path", "url(#" + cid + ")");
        if (r === 1) {
            inner.append("line").attr("x1", px).attr("x2", px + pw).attr("y1", y(secRefLine)).attr("y2", y(secRefLine))
                .attr("stroke", "#BDBDBD").attr("stroke-width", 1.5);
        }

        var data = row.series[p];
        var area = d3.area().x(function (d) { return x(d[0]); }).y0(function (d) { return y(d[1]); }).y1(function (d) { return y(d[2]); });
        var line = d3.line().x(function (d) { return x(d[0]); }).y(function (d) { return y(d[1]); });

        data.forEach(function (s) {
            if (s[2]) inner.append("path").attr("d", area(s[2])).attr("fill", colors[s[0]]).attr("opacity", 0.5);
        });
        data.slice().reverse().forEach(function (s) {
            inner.append("path").attr("d", line(s[1])).attr("fill", "none")
                .attr("stroke", colors[s[0]]).attr("stroke-width", 1.2);
        });
        if (r === 1) {
            testedDots.filter(function (d) { return d[0] === p; }).forEach(function (d) {
                inner.append("circle").attr("cx", x(d[2])).attr("cy", y(d[3])).attr("r", 2.6)
                    .attr("fill", "none").attr("stroke", colors[d[1]]).attr("stroke-width", 1.1);
            });
        }

        // direct labels
        var ends = data.map(function (s) { var e = s[1][s[1].length - 1]; return [x(e[0]), y(e[1])]; });
        var bx = d3.max(ends, function (e) { return e[0]; }) + 3;
        var items = data.map(function (s, i) {
            var txt = labelNames[s[0]] || s[0];
            return {
                key: s[0], txt: txt, end: ends[i],
                target: Math.max(row.top, Math.min(row.top + row.h, ends[i][1])),
                h: /[gjpqy]/.test(txt) ? 20.5 : 17, w: textWidth(txt) + 5
            };
        });
        var tops = stackBoxes(items, row.top, row.top + row.h);
        items.forEach(function (it, i) {
            var t = tops[i], b = t + it.h;
            var pts = [it.end, [bx, t], [bx + it.w, t], [bx + it.w, b], [bx, b]];
            inner.append("polygon").attr("points", pts.map(function (q) { return q.join(","); }).join(" "))
                .attr("fill", colors[it.key]).attr("stroke", "#000").attr("stroke-width", 0.8);
            inner.append("text").attr("x", bx + 2.5).attr("y", t + 14).attr("font-size", 16)
                .attr("fill", darkText.indexOf(it.key) >= 0 ? "#000" : "#fff").text(it.txt);
        });

        g.append("rect").attr("x", px).attr("y", row.top).attr("width", pw).attr("height", row.h)
            .attr("fill", "none").attr("stroke", "#333333").attr("stroke-width", 1);

        // y axis on the first column
        if (p === 0) {
            row.ticks.forEach(function (v, k) {
                svg.append("line").attr("x1", px - 3.5).attr("x2", px).attr("y1", y(v)).attr("y2", y(v))
                    .attr("stroke", "#333333").attr("stroke-width", 1);
                svg.append("text").attr("x", px - 6).attr("y", y(v) + 4).attr("text-anchor", "end")
                    .attr("font-size", 11.5).attr("fill", "#4D4D4D").text(row.labels[k]);
            });
        }
        // unit strips on the right
        if (p === 12) {
            svg.append("rect").attr("x", px + pw + 2).attr("y", row.top).attr("width", 22).attr("height", row.h)
                .attr("fill", "#D9D9D9").attr("stroke", "#333333").attr("stroke-width", 1);
            svg.append("text").attr("transform", "translate(" + (px + pw + 9) + "," + (row.top + row.h / 2) + ") rotate(90)")
                .attr("text-anchor", "middle").attr("font-size", 12).attr("fill", "#1A1A1A").text(unitNames[r]);
        }
    });

    // x axis under the bottom row
    var yb = rows[1].top + rows[1].h;
    xTicks[p].forEach(function (v, k) {
        svg.append("line").attr("x1", x(v)).attr("x2", x(v)).attr("y1", yb).attr("y2", yb + 3.5)
            .attr("stroke", "#333333").attr("stroke-width", 1);
        svg.append("text").attr("x", x(v)).attr("y", yb + 16).attr("text-anchor", "middle")
            .attr("font-size", 11.5).attr("fill", "#4D4D4D").text(xTickLabels[p][k]);
    });
}

svg.append("text")
    .attr("x", (x0 + x0 + 12 * step + pw) / 2).attr("y", 791)
    .attr("text-anchor", "middle").attr("font-size", 15)
    .text("N");
svg.append("text")
    .attr("transform", "translate(18," + ((rows[0].top + rows[1].top + rows[1].h) / 2) + ") rotate(-90)")
    .attr("text-anchor", "middle").attr("font-size", 15)
    .text("median line, quartiles band");
meas.remove();
</script>
</body>
</html>
